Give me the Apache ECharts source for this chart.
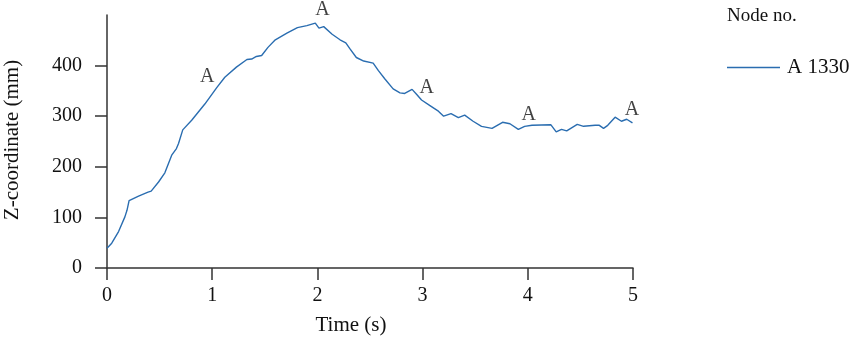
<!DOCTYPE html>
<html>
<head>
<meta charset="utf-8">
<script src="https://cdn.jsdelivr.net/npm/echarts@6/dist/echarts.min.js"></script>
<style>
html,body{margin:0;padding:0;background:#fff;}
#chart{width:850px;height:338px;}
</style>
</head>
<body>
<div id="chart"></div>
<script>
// Data
const times = [0, 0.045, 0.11, 0.17, 0.19, 0.21, 0.30, 0.39, 0.42, 0.49, 0.55, 0.615, 0.66, 0.68, 0.72, 0.805, 0.93, 1.045,
  1.12, 1.23, 1.33, 1.375, 1.42, 1.47, 1.53, 1.60, 1.71, 1.81, 1.90, 1.98, 2.015, 2.06, 2.14, 2.215, 2.27, 2.31, 2.37, 2.44,
  2.53, 2.58, 2.64, 2.72, 2.785, 2.83, 2.90, 2.94, 2.99, 3.07, 3.15, 3.20, 3.27, 3.34, 3.40, 3.48, 3.56, 3.66, 3.76, 3.83,
  3.91, 3.97, 4.04, 4.22, 4.27, 4.32, 4.37, 4.47, 4.53, 4.64, 4.68, 4.72, 4.76, 4.83, 4.845, 4.89, 4.94, 4.995];
const zValues = [39, 49, 72, 101, 114, 133, 142, 150, 152, 170, 188, 223, 236, 246, 273, 292, 324, 357,
  377, 397, 412, 413, 418, 420, 436, 451, 464, 475, 479, 484, 474, 477, 462, 451, 445, 433, 416, 409,
  405, 390, 374, 354, 346, 345, 353, 344, 332, 321, 310, 300, 305, 297, 302, 290, 280, 276, 288, 285,
  274, 280, 282, 283, 269, 274, 271, 284, 280, 282, 282, 276, 282, 298, 300, 290, 294, 287];
const seriesName = 'A 1330';
const legendTitle = 'Node no.';
const annoTimes = [1, 2, 3, 4, 5];
const annoValues = [344, 478, 330, 281, 287];
const annoText = 'A';
const xTicks = [0, 1, 2, 3, 4, 5];
const yTicks = [0, 100, 200, 300, 400];
const xName = 'Time (s)';
const yName = 'Z-coordinate (mm)';

const FONT = '"Liberation Serif", "DejaVu Serif", serif';
const TXT = '#111';
const AX = '#333';
const LINE = '#2a6db0';
const annoOffsets = [[-5, -5], [5, -4], [4, -1], [1, 1], [-1, -1]];

const chart = echarts.init(document.getElementById('chart'), null, {renderer: 'canvas'});
chart.setOption({
  animation: false,
  backgroundColor: '#fff',
  textStyle: {fontFamily: FONT, color: TXT},
  title: {
    text: legendTitle, left: 727, top: 7, padding: 0,
    textStyle: {fontFamily: FONT, fontSize: 19, fontWeight: 'normal', color: TXT}
  },
  legend: {
    data: [{name: seriesName, icon: 'rect', itemStyle: {color: LINE}}],
    left: 727, top: 57, padding: 0, itemWidth: 53, itemHeight: 1.5, itemGap: 10,
    textStyle: {fontFamily: FONT, fontSize: 21, color: TXT, padding: [0, 0, 0, 2]}
  },
  grid: {left: 107, right: 217, top: 15, bottom: 70, containLabel: false, outerBoundsMode: 'none'},
  xAxis: {
    type: 'value', min: 0, max: 5, interval: 1,
    name: xName, nameLocation: 'middle', nameGap: 47,
    nameTextStyle: {fontFamily: FONT, fontSize: 21, color: TXT, padding: [0, 38, 0, 0]},
    axisLine: {show: true, onZero: false, lineStyle: {color: AX, width: 1.5}},
    axisTick: {show: true, length: 12, customValues: xTicks, lineStyle: {color: AX, width: 1.5}},
    axisLabel: {customValues: xTicks, margin: 18, fontFamily: FONT, fontSize: 20, color: TXT},
    splitLine: {show: false}
  },
  yAxis: {
    type: 'value', min: 0, max: 500,
    name: yName, nameLocation: 'middle', nameGap: 84,
    nameTextStyle: {fontFamily: FONT, fontSize: 21, color: TXT, padding: [0, 0, 0, 3]},
    axisLine: {show: true, onZero: false, lineStyle: {color: AX, width: 1.5}},
    axisTick: {show: true, length: 12, customValues: yTicks, lineStyle: {color: AX, width: 1.5}},
    axisLabel: {customValues: yTicks, margin: 25, fontFamily: FONT, fontSize: 20, color: TXT},
    splitLine: {show: false}
  },
  series: [
    {
      name: seriesName, type: 'line', symbol: 'none', smooth: false,
      lineStyle: {color: LINE, width: 1.4},
      itemStyle: {color: LINE},
      data: times.map((t, i) => [t, zValues[i]])
    },
    {
      name: 'annotations', type: 'scatter', symbolSize: 1, silent: true,
      itemStyle: {color: 'rgba(0,0,0,0)'},
      label: {show: true, position: 'top', distance: 2, formatter: annoText,
        fontFamily: FONT, fontSize: 20, color: TXT},
      data: annoTimes.map((t, i) => ({value: [t, annoValues[i]], label: {offset: annoOffsets[i]}}))
    }
  ]
});
</script>
</body>
</html>
